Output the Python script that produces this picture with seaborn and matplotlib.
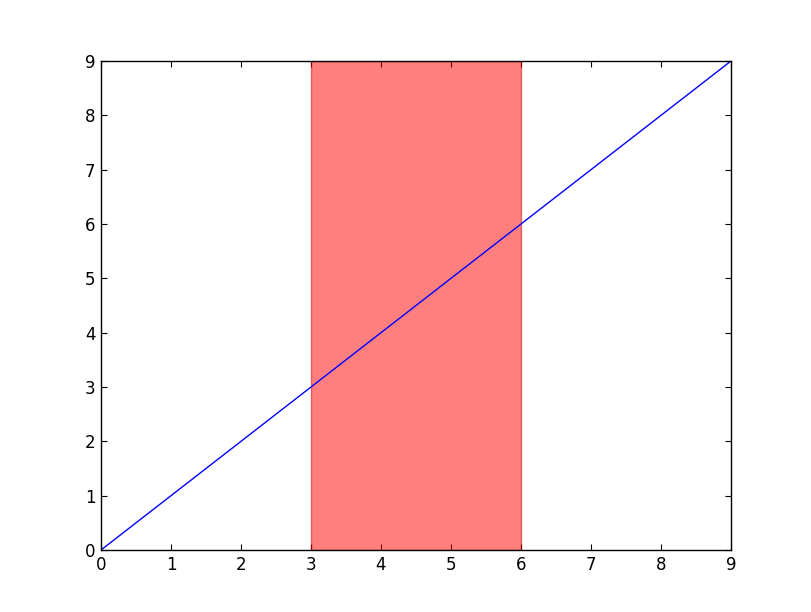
import numpy as np
import matplotlib
matplotlib.use("Agg")
import matplotlib.pyplot as plt
import seaborn as sns

sns.set_style("white")
plt.rcParams['font.family'] = ['DejaVu Sans']

x = [0, 9]
y = [0, 9]
span_start, span_end = 3, 6
ticks = list(range(0, 10))

fig = plt.figure(figsize=(8.12, 6.12), dpi=100)
ax = fig.add_axes([101/812, 62/612, 630/812, 489/612])

ax.axvspan(span_start, span_end, facecolor='red', alpha=0.5, edgecolor='#cc0000', lw=1)
sns.lineplot(x=x, y=y, color='blue', lw=1, ax=ax)

ax.set_xlim(0, 9)
ax.set_ylim(0, 9)
ax.set_xticks(ticks)
ax.set_yticks(ticks)
ax.tick_params(direction='in', length=4, width=0.8, top=True, right=True,
               bottom=True, left=True, labelsize=12, colors='black', pad=4)
for s in ax.spines.values():
    s.set_color('black')
    s.set_linewidth(1)

fig.savefig('out.png', dpi=100)
